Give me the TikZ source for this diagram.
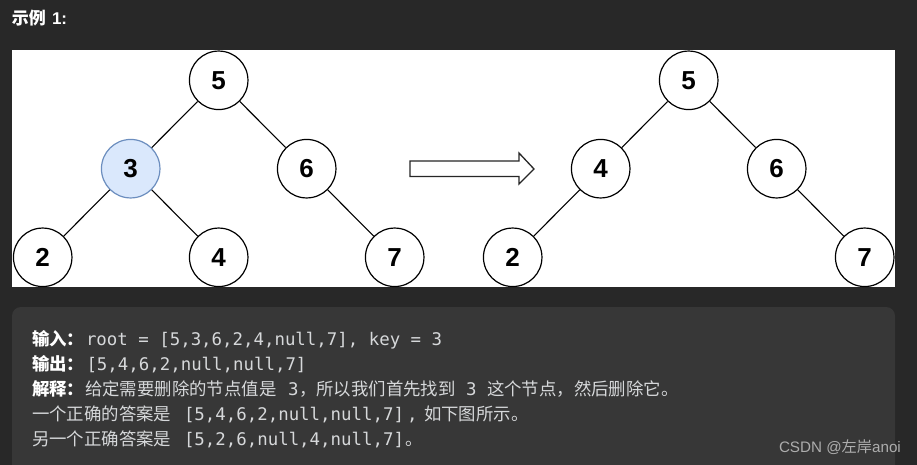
\documentclass[tikz,border=0pt]{standalone}
\usepackage{fontspec}
\setmainfont{Liberation Sans}
\newfontfamily\cjk{Noto Sans CJK SC}
\newfontfamily\mono{DejaVu Sans Mono}
\definecolor{pagebg}{HTML}{282828}
\definecolor{panelbg}{HTML}{373737}
\definecolor{bodytxt}{HTML}{D6D8DA}
\definecolor{hlfill}{HTML}{DAE8FC}
\definecolor{hlline}{HTML}{6C8EBF}
\newcommand{\Zh}[1]{{\cjk #1}}
\newcommand{\Mo}[1]{{\mono #1}}
\newcommand{\Bz}[1]{{\cjk\bfseries\color{white}#1}}
\tikzset{
  tree/.style={circle,draw=black,fill=white,line width=1.2pt,minimum size=58.5pt,inner sep=0pt,
    font=\fontsize{26}{26}\selectfont\bfseries,text=black},
  hl/.style={tree,draw=hlline,fill=hlfill},
  edge/.style={draw=black,line width=1.1pt},
  bigarrow/.style={draw=black!85,line width=1.3pt,fill=white},
  txt/.style={anchor=base west,inner sep=0pt,outer sep=0pt,text=bodytxt,font=\fontsize{17.4}{20}\selectfont},
}
\begin{document}
\begin{tikzpicture}[x=1pt,y=-1pt]
\useasboundingbox (0,0) rectangle (917,465);
\fill[pagebg] (0,0) rectangle (917,465);
\fill[white] (12,50) rectangle (895,287);
\fill[panelbg,rounded corners=9pt] (12,307) rectangle (895,480);
\node[txt,text=white,font=\fontsize{17}{20}\selectfont\bfseries] (title) at (12,25) {\cjk 示例\hspace{6pt}{\rmfamily 1:}};
% left tree
\node[tree] (a5) at (218.7,80.3) {5};
\node[hl] (a3) at (130.7,168.7) {3};
\node[tree] (a6) at (306.7,168.7) {6};
\node[tree] (a2) at (42.7,257.3) {2};
\node[tree] (a4) at (218.7,257.3) {4};
\node[tree] (a7) at (394.7,257.3) {7};
\draw[edge] (a5)--(a3);
\draw[edge] (a5)--(a6);
\draw[edge] (a3)--(a2);
\draw[edge] (a3)--(a4);
\draw[edge] (a6)--(a7);
% right tree
\node[tree] (b5) at (688.7,80.3) {5};
\node[tree] (b4) at (600.7,168.7) {4};
\node[tree] (b6) at (776.7,168.7) {6};
\node[tree] (b2) at (512.7,257.3) {2};
\node[tree] (b7) at (864.7,257.3) {7};
\draw[edge] (b5)--(b4);
\draw[edge] (b5)--(b6);
\draw[edge] (b4)--(b2);
\draw[edge] (b6)--(b7);
% arrow
\draw[bigarrow,line join=miter] (410,161)--(519,161)--(519,153)--(534,169)--(519,184)--(519,176.5)--(410,176.5)--cycle;
% text
\node[txt] (l1a) at (32,345) {\Bz{输入：}};
\node[txt] (l1b) at (86,345) {\Mo{root = [5,3,6,2,4,null,7], key = 3}};
\node[txt] (l2a) at (32,370) {\Bz{输出：}};
\node[txt] (l2b) at (86.5,370) {\Mo{[5,4,6,2,null,null,7]}};
\node[txt] (l3a) at (32,395) {\Bz{解释：}};
\node[txt] (l3b) at (85,395) {\Zh{给定需要删除的节点值是}};
\node[txt] (l3c) at (288,395) {\Mo{3}};
\node[txt] (l3d) at (299,395) {\Zh{，所以我们首先找到}};
\node[txt] (l3e) at (466,395) {\Mo{3}};
\node[txt] (l3f) at (487,395) {\Zh{这个节点，然后删除它。}};
\node[txt] (l4a) at (32,420) {\Zh{一个正确的答案是}};
\node[txt] (l4b) at (184,420) {\Mo{[5,4,6,2,null,null,7]}};
\node[txt] (l4c) at (407,420) {\Mo{,}};
\node[txt] (l4d) at (424,420) {\Zh{如下图所示。}};
\node[txt] (l5a) at (32,445) {\Zh{另一个正确答案是}};
\node[txt] (l5b) at (184,445) {\Mo{[5,2,6,null,4,null,7]}};
\node[txt] (l5c) at (405,445) {\Zh{。}};
\node[txt,text=white!68!black,font=\fontsize{15.2}{16}\selectfont] (wm) at (779,452.5) {CSDN @\Zh{左岸}anoi};
\end{tikzpicture}
\end{document}
